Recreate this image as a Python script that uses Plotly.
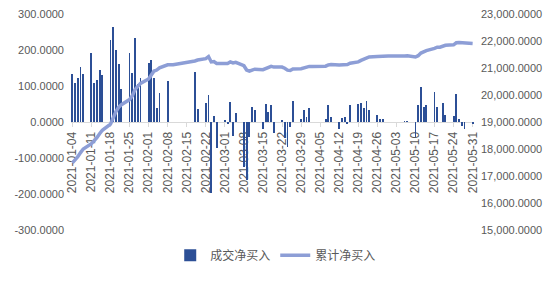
import plotly.graph_objects as go

dates = [
    "2021-01-04","2021-01-05","2021-01-06","2021-01-07","2021-01-08",
    "2021-01-11","2021-01-12","2021-01-13","2021-01-14","2021-01-15",
    "2021-01-18","2021-01-19","2021-01-20","2021-01-21","2021-01-22",
    "2021-01-25","2021-01-26","2021-01-27","2021-01-28","2021-01-29",
    "2021-02-01","2021-02-02","2021-02-03","2021-02-04","2021-02-05",
    "2021-02-08","2021-02-09","2021-02-10",
    "2021-02-18","2021-02-19",
    "2021-02-22","2021-02-23","2021-02-24","2021-02-25","2021-02-26",
    "2021-03-01","2021-03-02","2021-03-03","2021-03-04","2021-03-05",
    "2021-03-08","2021-03-09","2021-03-10","2021-03-11","2021-03-12",
    "2021-03-15","2021-03-16","2021-03-17","2021-03-18","2021-03-19",
    "2021-03-22","2021-03-23","2021-03-24","2021-03-25","2021-03-26",
    "2021-03-29","2021-03-30","2021-03-31","2021-04-01","2021-04-02",
    "2021-04-06","2021-04-07","2021-04-08","2021-04-09",
    "2021-04-12","2021-04-13","2021-04-14","2021-04-15","2021-04-16",
    "2021-04-19","2021-04-20","2021-04-21","2021-04-22","2021-04-23",
    "2021-04-26","2021-04-27","2021-04-28","2021-04-29","2021-04-30",
    "2021-05-06","2021-05-07",
    "2021-05-10","2021-05-11","2021-05-12","2021-05-13","2021-05-14",
    "2021-05-17","2021-05-18","2021-05-19","2021-05-20","2021-05-21",
    "2021-05-24","2021-05-25","2021-05-26","2021-05-27","2021-05-28",
    "2021-05-31",
]

daily_net = [
    134, 107, 123, 153, 134,
    193, 107, 118, 145, 131,
    228, 263, 201, 161, 91,
    191, 137, 233, 105, 123,
    164, 172, 123, 38, 80,
    115, 0, 0,
    139, 35,
    54, 75, -198, 16, -73,
    3, -3, 56, -38, 24,
    -125, -160, -43, 43, 32,
    -20, 51, 29, 46, -30,
    3, -45, -69, -15, 59,
    8, 32, 13, 40, 0,
    0, 9, 46, 13,
    -20, 10, 13, -3, 48,
    51, 54, 40, 59, 32,
    19, 8, 8, 0, 0,
    2, 2,
    -42, 48, 97, 43, 46,
    83, 43, 0, 54, 19,
    16, 78, 8, -11, -19,
    -3,
]

cumulative_net = [
    17484, 17591, 17714, 17867, 18001,
    18194, 18301, 18419, 18564, 18695,
    18923, 19186, 19387, 19548, 19639,
    19830, 19967, 20200, 20305, 20428,
    20592, 20764, 20887, 20925, 21005,
    21120, 21120, 21120,
    21259, 21294,
    21348, 21423, 21225, 21241, 21168,
    21171, 21168, 21224, 21186, 21210,
    21085, 20925, 20882, 20925, 20957,
    20937, 20988, 21017, 21063, 21033,
    21036, 20991, 20922, 20907, 20966,
    20974, 21006, 21019, 21059, 21059,
    21059, 21068, 21114, 21127,
    21107, 21117, 21130, 21127, 21175,
    21226, 21280, 21320, 21379, 21411,
    21430, 21438, 21446, 21446, 21446,
    21448, 21450,
    21408, 21456, 21553, 21596, 21642,
    21725, 21768, 21768, 21822, 21841,
    21857, 21935, 21943, 21932, 21913,
    21910,
]

left_ticks = [-300, -200, -100, 0, 100, 200, 300]
left_labels = [f"{v:.4f}" for v in left_ticks]
right_ticks = [15000, 16000, 17000, 18000, 19000, 20000, 21000, 22000, 23000]
right_labels = [f"{v:,.4f}" for v in right_ticks]

series_names = ["成交净买入", "累计净买入"]

FONT = "Arial, 'Liberation Sans', 'Noto Sans CJK SC', sans-serif"
TXT = "#595959"

fig = go.Figure()
fig.add_trace(go.Bar(
    x=dates, y=daily_net, name=series_names[0],
    marker=dict(color="#2c4f96", line=dict(width=0)),
    width=0.32 * 86400000,
    yaxis="y",
))
fig.add_trace(go.Scatter(
    x=dates, y=cumulative_net, name=series_names[1],
    mode="lines", line=dict(color="#8d9ed6", width=3.5),
    yaxis="y2",
))

fig.update_layout(
    width=554, height=282,
    margin=dict(l=71, r=80, t=14, b=45),
    paper_bgcolor="white", plot_bgcolor="white",
    font=dict(family=FONT, color=TXT, size=11),
    showlegend=True,
    legend=dict(
        orientation="h", x=0.508, xanchor="center", y=-0.117, yanchor="middle",
        font=dict(size=12, color=TXT, family=FONT),
        bgcolor="rgba(0,0,0,0)",
    ),
    bargap=0,
    xaxis=dict(
        type="date",
        range=["2021-01-03 12:00", "2021-05-31 12:00"],
        tick0="2021-01-04", dtick=7 * 86400000,
        tickformat="%Y-%m-%d", tickangle=-90,
        tickfont=dict(size=12, color=TXT, family=FONT),
        showgrid=False, zeroline=False,
        showline=True, linecolor="#d9d9d9", linewidth=1,
        ticks="outside", ticklen=4, tickcolor="#d9d9d9",
        anchor="free", position=0.5,
        automargin=False, layer="below traces",
    ),
    yaxis=dict(
        range=[-300, 300], tickvals=left_ticks, ticktext=left_labels,
        showgrid=False, zeroline=False, showline=False, ticks="",
        tickfont=dict(size=11, color=TXT, family=FONT),
        ticklabelstandoff=6, automargin=False,
    ),
    yaxis2=dict(
        range=[15000, 23000], tickvals=right_ticks, ticktext=right_labels,
        overlaying="y", side="right",
        showgrid=False, zeroline=False, showline=False, ticks="",
        tickfont=dict(size=11, color=TXT, family=FONT),
        ticklabelstandoff=6, automargin=False,
    ),
)

fig.write_html("out.html")
